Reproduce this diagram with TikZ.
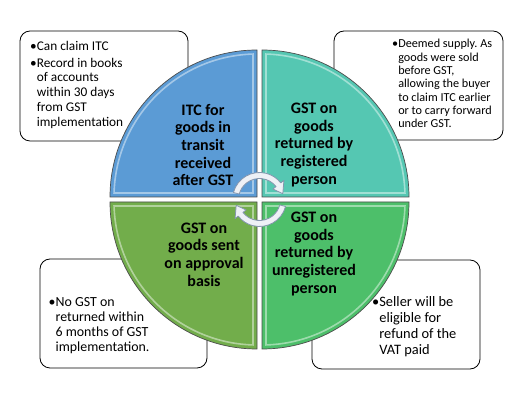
\documentclass[tikz,border=0pt]{standalone}
\usepackage{fontspec}
\setmainfont{Carlito}
\frenchspacing
\definecolor{qblue}{HTML}{5B9BD5}
\definecolor{qteal}{HTML}{55C7B2}
\definecolor{qolive}{HTML}{72AD4B}
\definecolor{qgreen}{HTML}{4DBF6A}
\definecolor{arrfill}{HTML}{EEF1F6}
\definecolor{arrline}{HTML}{8596AE}
\begin{document}
\begin{tikzpicture}[x=1pt,y=1pt,
  callout/.style={draw=black, line width=0.8pt, rounded corners=10pt, fill=white, inner sep=0},
  quadrant/.style={line width=0.7pt, draw=black!70},
  bevel/.style={draw=white, opacity=0.45, line width=1.6pt},
  qtext/.style={align=center, inner sep=0, font=\bfseries\fontsize{16}{17.7}\selectfont},
  cyclearrow/.style={fill=arrfill, draw=arrline, line width=0.8pt, line join=round}]
\useasboundingbox (0,0) rectangle (524,403);

% callout boxes
\node[callout, minimum width=168pt, minimum height=110pt] (boxTL) at (104,317) {};
\node[callout, minimum width=169pt, minimum height=109pt] (boxTR) at (418.5,317.5) {};
\node[callout, minimum width=167pt, minimum height=109pt] (boxBL) at (123.5,89.5) {};
\node[callout, minimum width=168pt, minimum height=109pt] (boxBR) at (396,88.5) {};

% quadrants
\begin{scope}[shift={(257,206)}]
  \path[quadrant, fill=qblue] (0,0) -- (-147,0) arc[start angle=180, end angle=90, radius=147] -- cycle;
  \draw[bevel] (-4,4) -- (178.4:143) arc[start angle=178.4, end angle=91.6, radius=143] -- cycle;
\end{scope}
\begin{scope}[shift={(262,206)}]
  \path[quadrant, fill=qteal] (0,0) -- (0,147) arc[start angle=90, end angle=0, radius=147] -- cycle;
  \draw[bevel] (4,4) -- (88.4:143) arc[start angle=88.4, end angle=1.6, radius=143] -- cycle;
\end{scope}
\begin{scope}[shift={(257,201)}]
  \path[quadrant, fill=qolive] (0,0) -- (0,-147) arc[start angle=270, end angle=180, radius=147] -- cycle;
  \draw[bevel] (-4,-4) -- (268.4:143) arc[start angle=268.4, end angle=181.6, radius=143] -- cycle;
\end{scope}
\begin{scope}[shift={(262,201)}]
  \path[quadrant, fill=qgreen] (0,0) -- (147,0) arc[start angle=0, end angle=-90, radius=147] -- cycle;
  \draw[bevel] (4,-4) -- (-1.6:143) arc[start angle=-1.6, end angle=-88.4, radius=143] -- cycle;
\end{scope}

% cycle arrows
\begin{scope}[shift={(259.5,203.5)}]
  \draw[cyclearrow] (165:27) arc[start angle=165, end angle=38, radius=27] -- (38:31) -- (14:24) -- (38:17) -- (38:21) arc[start angle=38, end angle=165, radius=21] -- cycle;
  \draw[cyclearrow] (-15:27) arc[start angle=-15, end angle=-142, radius=27] -- (-142:31) -- (-166:24) -- (-142:17) -- (-142:21) arc[start angle=-142, end angle=-15, radius=21] -- cycle;
\end{scope}

% quadrant texts
\node[qtext] (tTL) at (203,258) {ITC for\\goods in\\transit\\received\\after GST};
\node[qtext] (tTR) at (314,258) {GST on\\goods\\returned by\\registered\\person};
\node[qtext] (tBL) at (204,148.5) {GST on\\goods sent\\on approval\\basis};
\node[qtext] (tBR) at (314,149) {GST on\\goods\\returned by\\unregistered\\person};

% callout texts
\node[anchor=base west, inner sep=0, font=\fontsize{13.3}{14.8}\selectfont] (txtTL) at (30,352.7)
  {\begin{tabular}[t]{@{}l@{}l@{}}•&Can claim ITC\\[2pt] •&Record in books\\ &of accounts\\ &within 30 days\\ &from GST\\ &implementation\end{tabular}};
\node[anchor=base west, inner sep=0, font=\fontsize{12.2}{13.3}\selectfont] (txtTR) at (392,355)
  {\begin{tabular}[t]{@{}l@{}l@{}}•&Deemed supply. As\\ &goods were sold\\ &before GST,\\ &allowing the buyer\\ &to claim ITC earlier\\ &or to carry forward\\ &under GST.\end{tabular}};
\node[anchor=base west, inner sep=0, font=\fontsize{13.9}{15}\selectfont] (txtBL) at (48.5,96.5)
  {\begin{tabular}[t]{@{}l@{}l@{}}•&No GST on\\ &returned within\\ &6 months of GST\\ &implementation.\end{tabular}};
\node[anchor=base west, inner sep=0, font=\fontsize{14.4}{16}\selectfont] (txtBR) at (372,96.3)
  {\begin{tabular}[t]{@{}l@{}l@{}}•&Seller will be\\ &eligible for\\ &refund of the\\ &VAT paid\end{tabular}};
\end{tikzpicture}
\end{document}
